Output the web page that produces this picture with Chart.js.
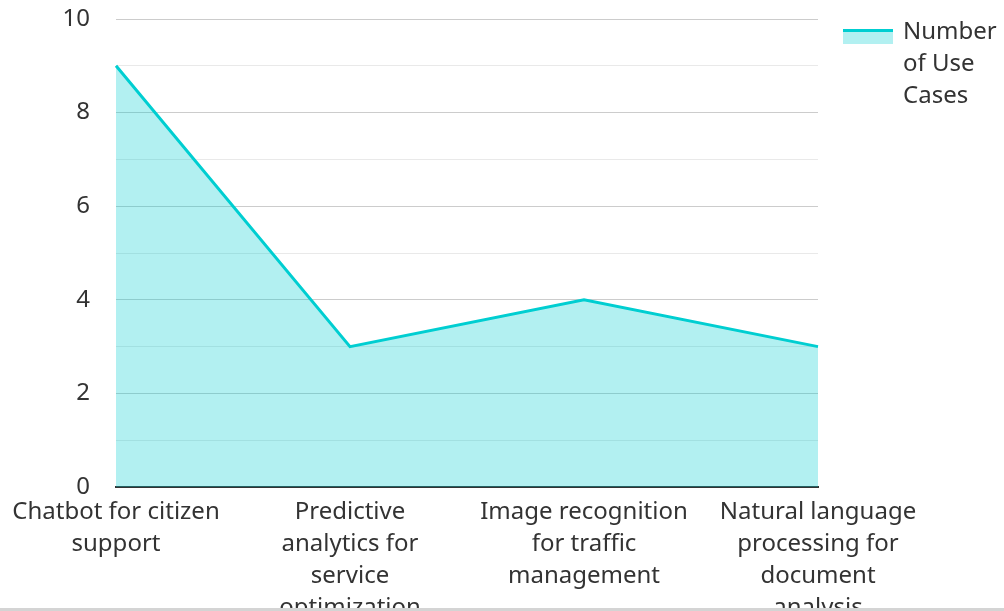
<!DOCTYPE html>
<html><head><meta charset="utf-8">
<script src="https://cdn.jsdelivr.net/npm/chart.js@4"></script>
<style>
html,body{margin:0;padding:0;background:#fff;overflow:hidden;}
#wrap{position:relative;width:1004px;height:633px;}
#strip{position:fixed;left:0;right:0;bottom:0;height:3px;background:#d4d4d4;}
</style></head><body>
<div id="wrap"><canvas id="c"></canvas></div>
<div id="strip"></div>
<script>
const categories = [
  ["Chatbot for citizen", "support"],
  ["Predictive", "analytics for", "service", "optimization"],
  ["Image recognition", "for traffic", "management"],
  ["Natural language", "processing for", "document", "analysis"]
];
const seriesName = ["Number", "of Use", "Cases"];
const useCases = [9, 3, 4, 3];
const yTickLabels = [0, 2, 4, 6, 8, 10];

const LINE = '#00CED1';
const FILL = 'rgba(0,206,209,0.3)';
const TEXT = '#333333';
const FONT = {family: "'Noto Sans', 'Open Sans', sans-serif", size: 24, lineHeight: 32/24};
const LEGEND_WIDTH = 186;
const LEGEND_SWATCH_W = 50;

const legendBox = {
  id: 'legendBox',
  beforeLayout(chart) {
    const lg = chart.legend;
    if (lg && !lg._widthPatched) {
      const origFit = lg.fit.bind(lg);
      lg.fit = function() { origFit(); this.width = LEGEND_WIDTH; };
      lg._widthPatched = true;
    }
  },
  afterDraw(chart) {
    const lg = chart.legend;
    if (!lg || !lg.legendHitBoxes || !lg.legendHitBoxes.length) return;
    const hb = lg.legendHitBoxes[0];
    const top = hb.top + 9;
    const ctx = chart.ctx;
    ctx.save();
    ctx.fillStyle = FILL;
    ctx.fillRect(hb.left, top, LEGEND_SWATCH_W, 15);
    ctx.fillStyle = LINE;
    ctx.fillRect(hb.left, top, LEGEND_SWATCH_W, 3);
    ctx.restore();
  }
};

new Chart(document.getElementById('c'), {
  type: 'line',
  data: {
    labels: categories,
    datasets: [{
      label: seriesName,
      data: useCases,
      borderColor: LINE,
      backgroundColor: FILL,
      borderWidth: 3,
      fill: 'origin',
      tension: 0,
      pointRadius: 0,
      pointHoverRadius: 0
    }]
  },
  options: {
    responsive: true,
    maintainAspectRatio: false,
    animation: false,
    layout: {padding: {top: -5, left: 0, right: 0, bottom: 0}},
    plugins: {
      tooltip: {enabled: false},
      legend: {
        position: 'right',
        align: 'start',
        labels: {
          font: FONT,
          color: TEXT,
          boxWidth: 48,
          boxHeight: 15,
          padding: 25,
          generateLabels(chart) {
            return [{
              text: seriesName,
              fillStyle: 'rgba(0,0,0,0)',
              strokeStyle: 'rgba(0,0,0,0)',
              lineWidth: 0,
              hidden: false,
              datasetIndex: 0,
              fontColor: TEXT
            }];
          }
        }
      }
    },
    scales: {
      x: {
        offset: false,
        grid: {display: false, drawTicks: false},
        border: {display: true, color: '#333333', width: 2},
        ticks: {font: FONT, color: TEXT, padding: 9, maxRotation: 0, autoSkip: false}
      },
      y: {
        min: 0, max: 10,
        afterFit(scale) { scale.width = 116; scale.paddingTop = 19; },
        grid: {
          drawTicks: false,
          color(ctx) { return yTickLabels.includes(ctx.tick.value) ? '#cccccc' : '#e9e9e9'; },
          lineWidth: 1
        },
        border: {display: false},
        ticks: {
          stepSize: 1,
          font: FONT, color: TEXT, padding: 26, autoSkip: false,
          callback(v) { return yTickLabels.includes(v) ? String(v) : ''; }
        }
      }
    }
  },
  plugins: [legendBox]
});
</script>
</body></html>
